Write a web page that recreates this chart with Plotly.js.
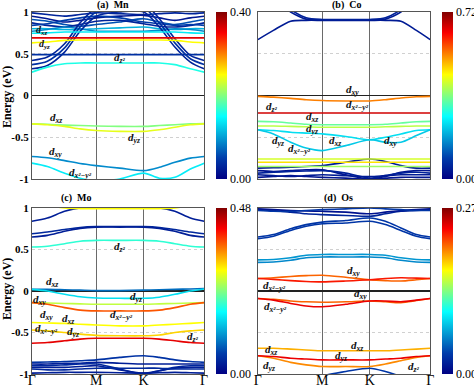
<!DOCTYPE html>
<html>
<head>
<meta charset="utf-8">
<script src="https://cdn.plot.ly/plotly-3.0.1.min.js"></script>
<style>html,body{margin:0;padding:0;background:#fff}#chart{width:474px;height:388px}</style>
</head>
<body>
<div id="chart"></div>
<script>
// k-path sample positions (fraction of path) and high-symmetry labels
const kPath = [0, 0.09, 0.19, 0.28, 0.374, 0.51, 0.649, 0.74, 0.83, 0.92, 1];
const kTicks = [0, 0.374, 0.649, 1];
const kLabels = ['Γ', 'M', 'K', 'Γ'];
const eTicks = [-1, -0.5, 0, 0.5, 1];
const eLabels = ['-1', '-0.5', '0', '0.5', '1'];

// colour-bar maxima
const cMax = [0.40, 0.72, 0.48, 0.27];
const panelNames = ['(a)&nbsp;&nbsp;Mn', '(b)&nbsp;&nbsp;Co', '(c)&nbsp;&nbsp;Mo', '(d)&nbsp;&nbsp;Os'];

// (a) Mn bands (eV) and projected weights
const mnBands = [
  [0.99,0.97,0.95,0.97,0.99,0.98,0.97,0.98,0.99,0.98,0.99],
  [0.95,0.92,0.88,0.90,0.93,0.95,0.96,0.93,0.90,0.93,0.95],
  [0.91,0.89,0.85,0.83,0.85,0.88,0.92,0.88,0.85,0.88,0.91],
  [0.87,0.84,0.82,0.85,0.89,0.90,0.86,0.83,0.82,0.84,0.87],
  [0.84,0.86,0.90,0.93,0.95,0.93,0.88,0.86,0.84,0.85,0.84],
  [0.80,0.80,0.79,0.79,0.80,0.81,0.82,0.80,0.79,0.80,0.80],
  [0.77,0.79,0.82,0.80,0.77,0.77,0.77,0.78,0.80,0.79,0.77],
  [0.42,0.46,0.62,0.87,1.05,1.10,1.10,0.92,0.68,0.48,0.42],
  [0.37,0.41,0.57,0.82,1.00,1.05,1.05,0.87,0.63,0.44,0.37],
  [0.32,0.36,0.52,0.77,0.95,1.00,1.00,0.82,0.58,0.40,0.32],
  [0.49,0.49,0.49,0.49,0.49,0.49,0.49,0.49,0.49,0.49,0.49],
  [0.745,0.75,0.76,0.76,0.76,0.76,0.76,0.76,0.76,0.75,0.745],
  [0.28,0.34,0.38,0.39,0.39,0.39,0.39,0.39,0.37,0.32,0.28],
  [0.63,0.64,0.66,0.665,0.665,0.665,0.665,0.665,0.66,0.64,0.63],
  [0.69,0.69,0.69,0.69,0.69,0.69,0.69,0.69,0.69,0.69,0.69],
  [-0.34,-0.345,-0.355,-0.36,-0.365,-0.37,-0.37,-0.36,-0.35,-0.34,-0.335],
  [-0.34,-0.35,-0.37,-0.40,-0.42,-0.43,-0.43,-0.41,-0.38,-0.35,-0.34],
  [-0.73,-0.745,-0.78,-0.815,-0.84,-0.87,-0.90,-0.86,-0.80,-0.75,-0.73],
  [-0.81,-0.85,-0.93,-0.99,-1.02,-1.0,-0.93,-0.99,-0.98,-0.88,-0.81]
];
const mnWeights = [0.03,0.02,0.06,0.03,0.05,0.11,0.09,0.03,0.04,0.03,0.04,0.14,0.16,0.25,0.36,0.20,0.24,0.09,0.14];

// (b) Co
const coBands = [
  [0.67,0.78,0.89,0.90,0.90,0.90,0.90,0.90,0.89,0.78,0.67],
  [1.30,1.15,1.00,0.915,0.905,0.905,0.905,0.915,1.00,1.15,1.30],
  [1.35,1.20,1.03,0.93,0.91,0.91,0.91,0.93,1.03,1.20,1.35],
  [-0.87,-0.865,-0.86,-0.85,-0.84,-0.80,-0.76,-0.79,-0.84,-0.87,-0.87],
  [-0.90,-0.91,-0.90,-0.89,-0.89,-0.95,-1.00,-0.97,-0.92,-0.90,-0.90],
  [-0.93,-0.92,-0.91,-0.905,-0.90,-0.93,-0.99,-0.96,-0.93,-0.92,-0.93],
  [-0.95,-0.96,-0.97,-0.96,-0.95,-0.96,-0.97,-0.96,-0.95,-0.95,-0.95],
  [-0.98,-0.97,-0.96,-0.97,-0.98,-0.99,-1.00,-0.99,-0.98,-0.98,-0.98],
  [-0.76,-0.76,-0.76,-0.76,-0.76,-0.76,-0.76,-0.76,-0.76,-0.76,-0.76],
  [-0.80,-0.80,-0.80,-0.80,-0.80,-0.80,-0.80,-0.80,-0.80,-0.80,-0.80],
  [-0.85,-0.85,-0.85,-0.85,-0.85,-0.85,-0.85,-0.85,-0.85,-0.85,-0.85],
  [-0.41,-0.42,-0.44,-0.45,-0.46,-0.49,-0.53,-0.50,-0.46,-0.42,-0.41],
  [-0.41,-0.46,-0.56,-0.63,-0.66,-0.60,-0.53,-0.56,-0.56,-0.48,-0.41],
  [-0.31,-0.315,-0.33,-0.345,-0.35,-0.35,-0.35,-0.345,-0.33,-0.315,-0.31],
  [-0.365,-0.365,-0.37,-0.375,-0.38,-0.38,-0.38,-0.375,-0.37,-0.365,-0.365],
  [-0.21,-0.21,-0.21,-0.21,-0.21,-0.21,-0.21,-0.21,-0.21,-0.21,-0.21],
  [-0.01,-0.02,-0.035,-0.05,-0.06,-0.065,-0.065,-0.05,-0.03,-0.015,-0.01]
];
const coWeights = [0.04,0.04,0.05,0.04,0.03,0.05,0.04,0.03,0.42,0.47,0.38,0.24,0.22,0.34,0.40,0.66,0.54];

// (c) Mo
const moBands = [
  [0.84,0.88,0.96,1.00,1.00,1.00,1.00,1.00,0.96,0.88,0.84],
  [0.69,0.71,0.74,0.765,0.775,0.775,0.775,0.765,0.74,0.71,0.69],
  [0.65,0.67,0.72,0.755,0.77,0.77,0.77,0.755,0.72,0.67,0.65],
  [-0.86,-0.855,-0.85,-0.84,-0.83,-0.80,-0.78,-0.80,-0.83,-0.85,-0.86],
  [-0.88,-0.88,-0.87,-0.87,-0.86,-0.87,-0.88,-0.88,-0.88,-0.88,-0.88],
  [-0.90,-0.90,-0.89,-0.88,-0.88,-0.94,-1.00,-0.96,-0.92,-0.90,-0.90],
  [-0.92,-0.92,-0.92,-0.91,-0.90,-0.95,-0.99,-0.96,-0.93,-0.92,-0.92],
  [-0.94,-0.95,-0.95,-0.94,-0.93,-0.93,-0.93,-0.93,-0.94,-0.94,-0.94],
  [-0.99,-0.985,-0.98,-0.98,-0.98,-0.985,-0.99,-0.985,-0.98,-0.985,-0.99],
  [1.05,1.03,1.00,0.993,0.993,0.993,0.993,0.993,1.00,1.03,1.05],
  [0.53,0.54,0.57,0.60,0.61,0.61,0.61,0.60,0.57,0.54,0.53],
  [0.02,0.02,0.015,0.01,0.005,0.005,0.01,0.015,0.02,0.025,0.03],
  [0.02,0.0,-0.04,-0.07,-0.085,-0.088,-0.088,-0.075,-0.04,0.0,0.025],
  [-0.14,-0.145,-0.15,-0.155,-0.16,-0.16,-0.16,-0.155,-0.15,-0.145,-0.14],
  [-0.14,-0.16,-0.2,-0.23,-0.24,-0.24,-0.24,-0.23,-0.2,-0.16,-0.14],
  [-0.38,-0.385,-0.39,-0.40,-0.41,-0.42,-0.42,-0.41,-0.40,-0.39,-0.38],
  [-0.47,-0.48,-0.50,-0.52,-0.535,-0.54,-0.54,-0.53,-0.50,-0.48,-0.47],
  [-0.63,-0.62,-0.60,-0.58,-0.57,-0.57,-0.57,-0.58,-0.60,-0.62,-0.63]
];
const moWeights = [0.03,0.04,0.03,0.05,0.03,0.04,0.03,0.04,0.03,0.30,0.20,0.09,0.16,0.27,0.38,0.30,0.32,0.43];

// (d) Os
const osBands = [
  [0.98,0.97,0.95,0.93,0.92,0.91,0.90,0.93,0.96,0.97,0.98],
  [0.99,0.98,0.97,0.965,0.96,0.95,0.93,0.95,0.97,0.98,0.99],
  [0.97,0.96,0.96,0.97,0.98,0.99,1.00,0.99,0.98,0.97,0.97],
  [0.65,0.68,0.75,0.80,0.83,0.85,0.88,0.84,0.76,0.68,0.65],
  [0.63,0.66,0.73,0.78,0.81,0.82,0.84,0.80,0.73,0.66,0.63],
  [-1.12,-1.1,-1.08,-1.05,-1.02,-0.97,-0.93,-0.97,-1.03,-1.1,-1.12],
  [0.375,0.38,0.40,0.43,0.44,0.44,0.44,0.43,0.40,0.38,0.375],
  [0.345,0.35,0.37,0.40,0.41,0.41,0.41,0.40,0.37,0.35,0.345],
  [0.15,0.16,0.175,0.185,0.19,0.165,0.135,0.125,0.12,0.135,0.15],
  [0.15,0.14,0.125,0.115,0.11,0.12,0.135,0.15,0.16,0.155,0.15],
  [-0.09,-0.10,-0.12,-0.13,-0.135,-0.13,-0.12,-0.13,-0.14,-0.115,-0.09],
  [-0.09,-0.11,-0.15,-0.18,-0.19,-0.16,-0.12,-0.12,-0.13,-0.11,-0.09],
  [-0.69,-0.69,-0.70,-0.71,-0.72,-0.72,-0.72,-0.72,-0.71,-0.70,-0.69],
  [-0.78,-0.81,-0.86,-0.89,-0.91,-0.91,-0.91,-0.88,-0.84,-0.80,-0.78],
  [-0.78,-0.79,-0.81,-0.82,-0.83,-0.83,-0.83,-0.82,-0.81,-0.79,-0.78]
];
const osWeights = [0.02,0.01,0.03,0.03,0.03,0.03,0.065,0.06,0.21,0.23,0.21,0.24,0.19,0.20,0.24];

// orbital labels: [panel, k, E, orbital, size]
const orbLabels = [
  [0,0.056,0.78,'xz',10],[0,0.075,0.615,'yz',10],[0,0.51,0.445,'z²',11],[0,0.14,-0.27,'xz',11],
  [0,0.595,-0.51,'yz',11],[0,0.14,-0.68,'xy',11],[0,0.28,-0.93,'x²−y²',11],
  [1,0.547,0.066,'xy',11],[1,0.576,-0.114,'x²−y²',11],[1,0.081,-0.14,'z²',11],[1,0.312,-0.255,'xz',11],
  [1,0.312,-0.40,'yz',11],[1,0.114,-0.55,'yz',11],[1,0.239,-0.645,'x²−y²',11],[1,0.45,-0.54,'xz',11],[1,0.769,-0.54,'xy',11],
  [2,0.51,0.526,'z²',11],[2,0.114,0.104,'xz',11],[2,0.046,-0.108,'xy',11],[2,0.605,-0.076,'yz',11],
  [2,0.518,-0.285,'x²−y²',11],[2,0.085,-0.285,'xy',11],[2,0.21,-0.337,'xz',11],[2,0.085,-0.458,'x²−y²',11],
  [2,0.239,-0.498,'yz',11],[2,0.933,-0.558,'z²',11],
  [3,0.557,0.237,'xy',11],[3,0.094,0.064,'x²−y²',11],[3,0.595,-0.036,'xy',11],[3,0.10,-0.197,'x²−y²',11],
  [3,0.576,-0.659,'xz',11],[3,0.075,-0.707,'xz',11],[3,0.48,-0.78,'yz',11],[3,0.066,-0.9,'yz',11],[3,0.904,-0.92,'z²',11]
];

const jetStops = [[0,[0,0,131]],[0.125,[0,60,170]],[0.375,[5,255,255]],[0.625,[255,255,0]],[0.875,[250,0,0]],[1,[128,0,0]]];
function jet(t){
  t = Math.max(0, Math.min(1, t));
  for (let i = 1; i < jetStops.length; i++){
    if (t <= jetStops[i][0]){
      const [t0,c0] = jetStops[i-1], [t1,c1] = jetStops[i];
      const f = (t - t0) / (t1 - t0);
      return 'rgb(' + c0.map((c,j)=>Math.round(c + f*(c1[j]-c))).join(',') + ')';
    }
  }
  return 'rgb(128,0,0)';
}

const allBands = [mnBands, coBands, moBands, osBands];
const allWeights = [mnWeights, coWeights, moWeights, osWeights];
const serif = 'Liberation Serif, Times New Roman, serif';

// pixel layout
const W = 474, H = 388;
const xDom = [[32/W, 205/W], [259/W, 432/W], [32/W, 205/W], [259/W, 432/W]];
const yDom = [[1-179/H, 1-12/H], [1-179/H, 1-12/H], [1-374/H, 1-208/H], [1-374/H, 1-208/H]];
const cbX = [217/W, 444/W, 217/W, 444/W];

const traces = [];
const layout = {
  width: W, height: H, margin: {l:0, r:0, t:0, b:0},
  paper_bgcolor: '#fff', plot_bgcolor: '#fff', showlegend: false,
  font: {family: serif, color: '#000'},
  annotations: []
};

for (let p = 0; p < 4; p++){
  const sfx = p === 0 ? '' : String(p+1);
  const xa = 'x' + sfx, ya = 'y' + sfx;
  allBands[p].forEach((b, i) => {
    traces.push({
      type: 'scatter', mode: 'lines', x: kPath, y: b, xaxis: xa, yaxis: ya,
      line: {color: jet(allWeights[p][i] / cMax[p]), width: 1.6, shape: 'spline', smoothing: 0.8},
      hoverinfo: 'skip'
    });
  });
  // colour bar carrier
  traces.push({
    type: 'scatter', mode: 'markers', x: [0.5], y: [5], xaxis: xa, yaxis: ya, hoverinfo: 'skip',
    marker: {
      color: [0], cmin: 0, cmax: cMax[p], colorscale: 'Jet', showscale: true, size: 1,
      colorbar: {
        x: cbX[p], xanchor: 'left', y: yDom[p][1], yanchor: 'top',
        len: yDom[p][1] - yDom[p][0], lenmode: 'fraction', thickness: 11, thicknessmode: 'pixels',
        xpad: 0, ypad: 0, outlinewidth: 0, ticks: '',
        tickvals: [0, cMax[p]], ticktext: ['0.00', cMax[p].toFixed(2)],
        tickfont: {family: serif, size: 12, color: '#000'}
      }
    }
  });
  const bottom = p >= 2, left = p % 2 === 0;
  layout['xaxis' + sfx] = {
    domain: xDom[p], anchor: ya, range: [0, 1], fixedrange: true,
    tickvals: kTicks, ticktext: kLabels, showticklabels: bottom, ticks: '',
    ticklabelstandoff: -7,
    tickfont: {family: serif, size: 14, color: '#000'},
    showgrid: true, gridcolor: '#6a6a6a', gridwidth: 1, zeroline: false,
    showline: true, mirror: true, linecolor: '#555', linewidth: 1
  };
  layout['yaxis' + sfx] = {
    domain: yDom[p], anchor: xa, range: [-1, 1], fixedrange: true,
    tickvals: eTicks, ticktext: eLabels, showticklabels: left, ticks: '',
    tickfont: {family: serif, size: 11, color: '#000', weight: 'bold'},
    showgrid: true, gridcolor: '#d0d0d0', griddash: 'dot', gridwidth: 1,
    zeroline: true, zerolinecolor: '#222', zerolinewidth: 1.3,
    showline: true, mirror: true, linecolor: '#555', linewidth: 1
  };
}

// panel titles
const titlePos = [[113/W, 1-5/H], [348/W, 1-5/H], [77/W, 1-198/H], [340/W, 1-198/H]];
panelNames.forEach((t, p) => {
  layout.annotations.push({xref:'paper', yref:'paper', x: titlePos[p][0], y: titlePos[p][1],
    text: '<b>' + t + '</b>', showarrow: false, font: {family: serif, size: 10}, xanchor: 'center', yanchor: 'middle'});
});
// energy labels
[[7/W, 1-97/H], [7/W, 1-289/H]].forEach(pos => {
  layout.annotations.push({xref:'paper', yref:'paper', x: pos[0], y: pos[1], textangle: -90,
    text: '<b>Energy (eV)</b>', showarrow: false, font: {family: serif, size: 12}, xanchor: 'center', yanchor: 'middle'});
});
// orbital labels
orbLabels.forEach(([p, k, e, o, s]) => {
  const sfx = p === 0 ? '' : String(p+1);
  layout.annotations.push({xref: 'x' + sfx, yref: 'y' + sfx, x: k, y: e,
    text: '<b><i>d</i><sub><i>' + o + '</i></sub></b>', showarrow: false,
    font: {family: serif, size: s, color: '#111'}, xanchor: 'center', yanchor: 'middle'});
});

Plotly.newPlot('chart', traces, layout, {staticPlot: true, displayModeBar: false});
</script>
</body>
</html>
